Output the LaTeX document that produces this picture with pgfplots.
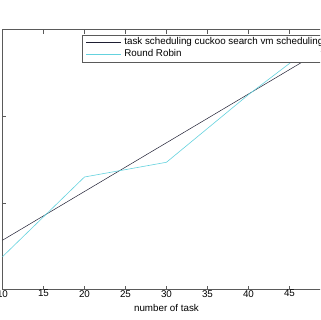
\documentclass[border=0pt]{standalone}
\usepackage{pgfplots}
\pgfplotsset{compat=1.18}
\usepackage{fontspec}
\setmainfont{Liberation Sans}
\definecolor{rrcyan}{RGB}{100,210,222}
\definecolor{darkline}{RGB}{30,30,50}
\definecolor{axgray}{RGB}{90,90,90}
\begin{document}
\begin{tikzpicture}[x=1pt,y=1pt]
\useasboundingbox (0,0) rectangle (320,320);
\clip (0,0) rectangle (320,320);
\begin{axis}[
  at={(3,35)}, anchor=south west,
  scale only axis, width=328pt, height=260pt,
  xmin=10, xmax=50, ymin=0, ymax=3,
  xtick={10,15,...,50}, ytick={0,1,2,3}, yticklabels={},
  tick align=inside, major tick length=4pt,
  axis line style={axgray, line width=0.8pt},
  every tick/.style={axgray, line width=0.6pt},
  font=\fontsize{9.8}{12}\selectfont,
  /pgf/number format/assume math mode=true,
  xticklabel style={yshift=3pt},
  xlabel={number of task},
  xlabel style={yshift=0pt},
  legend cell align=left,
  legend style={at={(axis description cs:0.241,0.981)}, anchor=north west,
    draw=axgray, line width=0.6pt, inner xsep=4pt, inner ysep=1.5pt, row sep=0pt,
    column sep=2pt,
    nodes={inner sep=1pt, text height=7.5pt, text depth=2.5pt},
    font=\fontsize{9.8}{12}\selectfont},
  legend image code/.code={\draw[#1] (0pt,0pt) -- (35pt,0pt);},
]
\addplot[darkline, line width=0.5pt] coordinates {(10,0.57) (50,2.82)};
\addlegendentry{task scheduling cuckoo search vm scheduling}
\addplot[rrcyan, line width=0.6pt] coordinates {(10,0.38) (20,1.30) (30,1.47) (40,2.25) (50,2.97)};
\addlegendentry{Round Robin}
\end{axis}
\end{tikzpicture}
\end{document}
